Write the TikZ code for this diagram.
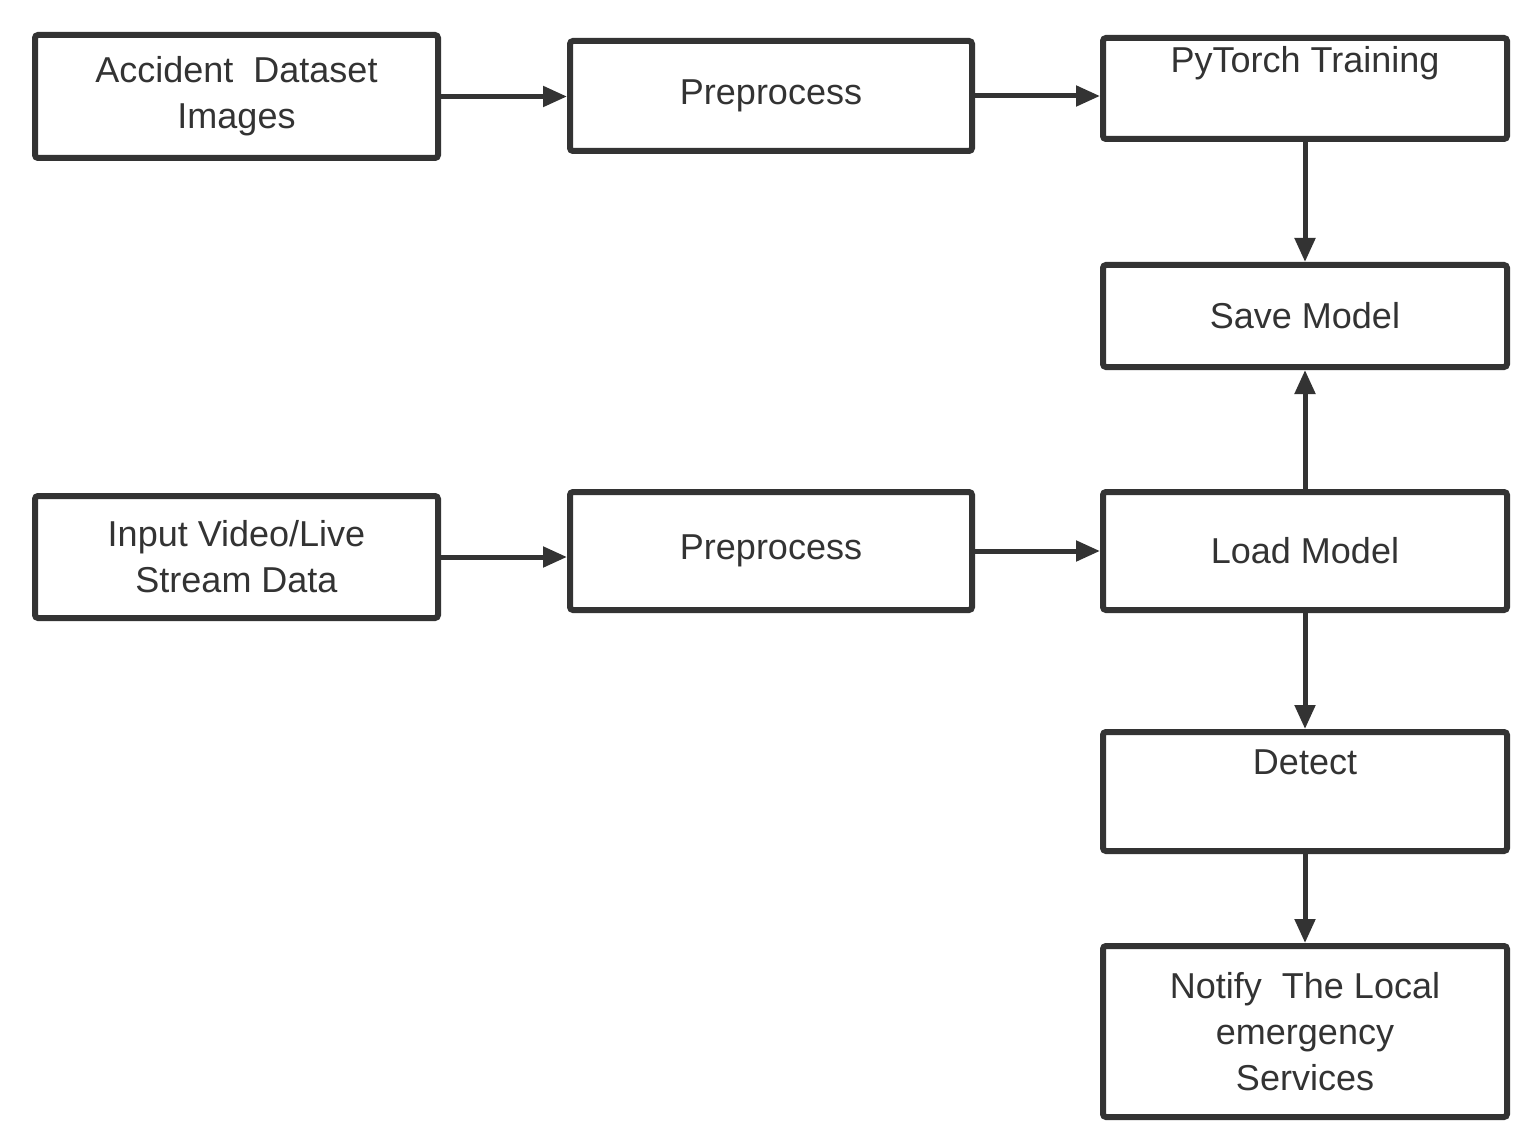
\documentclass[tikz,border=0pt]{standalone}
\usepackage{fontspec}
\setmainfont{Liberation Sans}
\usetikzlibrary{arrows.meta}
\definecolor{ink}{HTML}{333333}
\begin{document}
\begin{tikzpicture}[x=1pt,y=-1pt,
  box/.style={draw=ink,line width=6pt,rounded corners=3pt,anchor=north west,align=center,
    font=\fontsize{36}{48}\selectfont,text=ink,inner sep=0pt},
  arr/.style={draw=ink,line width=5pt,-{Triangle[length=24pt,width=20pt]}}]
\useasboundingbox (0,0) rectangle (1536,1147);
\node[box,minimum width=403pt,minimum height=123pt] (A) at (32,32) {Accident\ \ Dataset\\[-2pt]Images};
\node[box,minimum width=402pt,minimum height=110pt] (P1) at (567,38) {Preprocess};
\node[box,minimum width=404pt,minimum height=101pt] (PT) at (1100,35) {PyTorch Training\\[10pt]};
\node[box,minimum width=404pt,minimum height=102pt] (SM) at (1100,262) {Save Model};
\node[box,minimum width=403pt,minimum height=122pt] (IV) at (32,493) {Input Video/Live\\[-2pt]Stream Data};
\node[box,minimum width=402pt,minimum height=118pt] (P2) at (567,489) {Preprocess};
\node[box,minimum width=404pt,minimum height=118pt] (LM) at (1100,489) {Load Model};
\node[box,minimum width=404pt,minimum height=119pt] (D) at (1100,729) {Detect\\[10pt]};
\node[box,minimum width=404pt,minimum height=171pt] (N) at (1100,943) {Notify\ \ The Local\\[-2pt]emergency\\[-2pt]Services};
\draw[arr] (A.east) -- (A.east -| P1.west);
\draw[arr] (P1.east) -- (P1.east -| PT.west);
\draw[arr] (PT.south) -- (SM.north);
\draw[arr] (LM.north) -- (SM.south);
\draw[arr] (IV.east) -- (IV.east -| P2.west);
\draw[arr] (P2.east) -- (LM.west);
\draw[arr] (LM.south) -- (D.north);
\draw[arr] (D.south) -- (N.north);
\end{tikzpicture}
\end{document}
